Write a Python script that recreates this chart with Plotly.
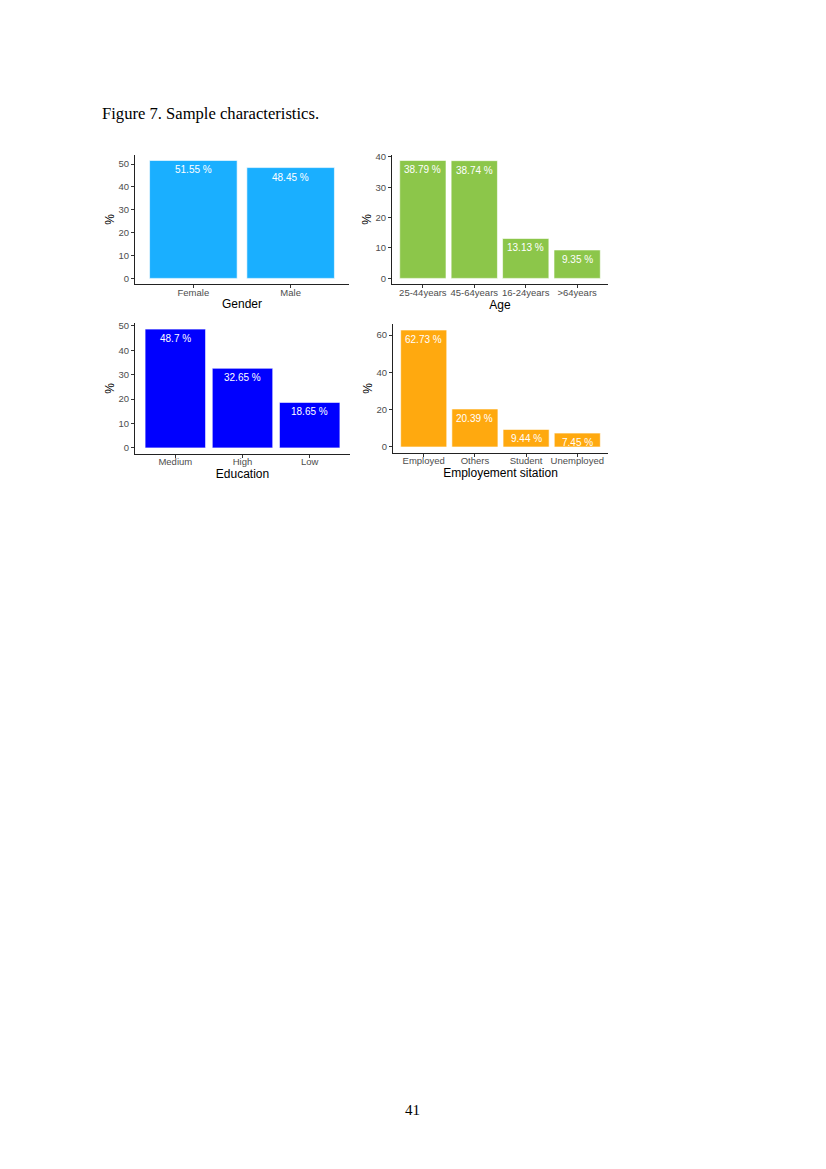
import plotly.graph_objects as go

W, H = 826, 1169

# data
gender_cats = ["Female", "Male"]
gender_vals = [51.55, 48.45]
age_cats = ["25-44years", "45-64years", "16-24years", ">64years"]
age_vals = [38.79, 38.74, 13.13, 9.35]
edu_cats = ["Medium", "High", "Low"]
edu_vals = [48.7, 32.65, 18.65]
emp_cats = ["Employed", "Others", "Student", "Unemployed"]
emp_vals = [62.73, 20.39, 9.44, 7.45]

panels = [
    # cats, vals, color, x title, tick step, pixel box (x0, x1, y0, y1)
    (gender_cats, gender_vals, "#1AAFFF", "Gender", 10, (135, 349, 152, 282)),
    (age_cats, age_vals, "#8CC64A", "Age", 10, (392, 608, 152, 282)),
    (edu_cats, edu_vals, "#0000FF", "Education", 10, (135, 350, 321, 452)),
    (emp_cats, emp_vals, "#FFA90F", "Employement sitation", 20, (393, 608, 322, 451)),
]

fig = go.Figure()
annotations = []
layout_axes = {}

for i, (cats, vals, color, xtitle, step, box) in enumerate(panels):
    n = i + 1
    xa = "x" if n == 1 else f"x{n}"
    ya = "y" if n == 1 else f"y{n}"
    x0, x1, y0, y1 = box

    fig.add_trace(go.Bar(
        x=cats, y=vals, width=0.9,
        marker=dict(color=color, line=dict(color="white", width=0.6)),
        xaxis=xa, yaxis=ya, showlegend=False, hoverinfo="skip",
    ))

    for c, v in zip(cats, vals):
        annotations.append(dict(
            x=c, y=v, xref=xa, yref=ya, text=f"{v:g} %", showarrow=False,
            yanchor="top", yshift=-2,
            font=dict(family="Liberation Sans, Arial", size=10, color="white"),
        ))

    vmax = max(vals)
    pad = vmax * 0.05
    tickvals = list(range(0, int(vmax + pad) + 1, step))

    axis_common = dict(
        showline=True, linecolor="#222222", linewidth=1,
        ticks="outside", ticklen=3, tickcolor="#333333", tickwidth=1,
        showgrid=False, zeroline=False,
        tickfont=dict(family="Liberation Sans, Arial", size=9.5, color="#4D4D4D"),
    )
    layout_axes["xaxis" if n == 1 else f"xaxis{n}"] = dict(
        axis_common,
        domain=[x0 / W, x1 / W],
        anchor=ya,
        range=[-0.6, len(cats) - 0.4],
        ticklabelstandoff=-4,
        title=dict(text=xtitle, standoff=2,
                   font=dict(family="Liberation Sans, Arial", size=12, color="black")),
    )
    layout_axes["yaxis" if n == 1 else f"yaxis{n}"] = dict(
        axis_common,
        domain=[1 - y1 / H, 1 - y0 / H],
        anchor=xa,
        range=[-pad, vmax + pad],
        tickvals=tickvals,
        title=dict(text="%", standoff=1,
                   font=dict(family="Liberation Sans, Arial", size=12, color="black")),
    )

annotations.append(dict(
    x=100 / W, y=1 - 111 / H, xref="paper", yref="paper",
    text="Figure 7. Sample characteristics.", showarrow=False,
    xanchor="left", yanchor="middle",
    font=dict(family="Liberation Serif, Times New Roman", size=16.6, color="black"),
))
annotations.append(dict(
    x=412 / W, y=1 - 1110 / H, xref="paper", yref="paper",
    text="41", showarrow=False, xanchor="center", yanchor="middle",
    font=dict(family="Liberation Serif, Times New Roman", size=15, color="black"),
))

fig.update_layout(
    width=W, height=H,
    margin=dict(l=0, r=0, t=0, b=0),
    paper_bgcolor="white", plot_bgcolor="white",
    annotations=annotations,
    bargap=0.1,
    **layout_axes,
)

# the page's default 8px body margin would shift the whole figure
fig.write_html("out.html", config={"displayModeBar": False},
               post_script="document.body.style.margin='0';")
